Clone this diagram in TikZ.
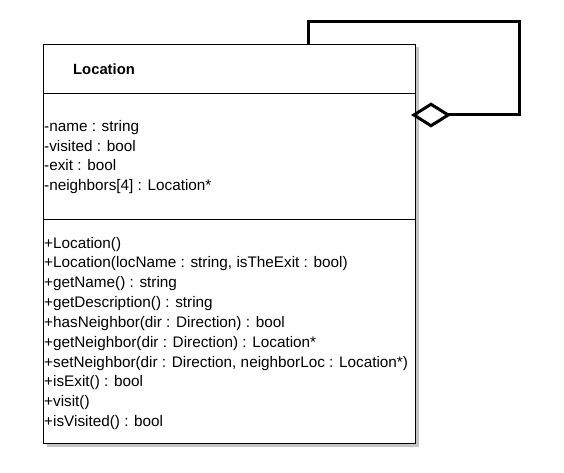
\documentclass[tikz,border=0pt]{standalone}
\usepackage{fontspec}
\setmainfont{Liberation Sans}
\usetikzlibrary{arrows.meta,shadows}

\tikzset{
  classbox/.style={draw, line width=1pt, fill=white, inner sep=0pt,
    drop shadow={shadow xshift=3pt, shadow yshift=-3pt, fill=gray!45, opacity=1}},
  member/.style={anchor=base west, inner sep=0pt, font=\fontsize{15.3}{18}\selectfont},
  selfassoc/.style={line width=3pt, line join=miter,
    -{Diamond[open, length=40pt, width=25pt, line width=3pt]}}
}

\begin{document}
\begin{tikzpicture}[x=1pt, y=-1pt]
  \useasboundingbox (0,0) rectangle (564,473);

  % class box
  \node[classbox, anchor=north west, minimum width=372pt, minimum height=399pt] (loc) at (43,44) {};

  % compartments
  \draw[line width=1pt] (43,94) -- (415,94);
  \draw[line width=1pt] (43,219) -- (415,219);

  % class name
  \node[member, font=\bfseries\fontsize{14.8}{18}\selectfont] (title) at (73,74.7) {Location};

  % attributes
  \foreach \txt [count=\i] in {-name : string, -visited : bool, -exit : bool,
      {-neighbors[4] : Location*}}
    \node[member] (attr\i) at (44,131.5+19.7*\i-19.7) {\txt};

  % operations
  \foreach \txt [count=\i] in {+Location(),
      {+Location(locName : string, isTheExit : bool)},
      +getName() : string,
      +getDescription() : string,
      +hasNeighbor(dir : Direction) : bool,
      +getNeighbor(dir : Direction) : Location*,
      {+setNeighbor(dir : Direction, neighborLoc : Location*)},
      +isExit() : bool,
      +visit(),
      +isVisited() : bool}
    \node[member] (op\i) at (44,248+19.85*\i-19.85) {\txt};

  % self association
  \coordinate (bend) at (519,22);
  \draw[selfassoc] ([xshift=265pt]loc.north west) |- (bend) |- ([xshift=-5pt, yshift=-71pt]loc.north east);
\end{tikzpicture}
\end{document}
